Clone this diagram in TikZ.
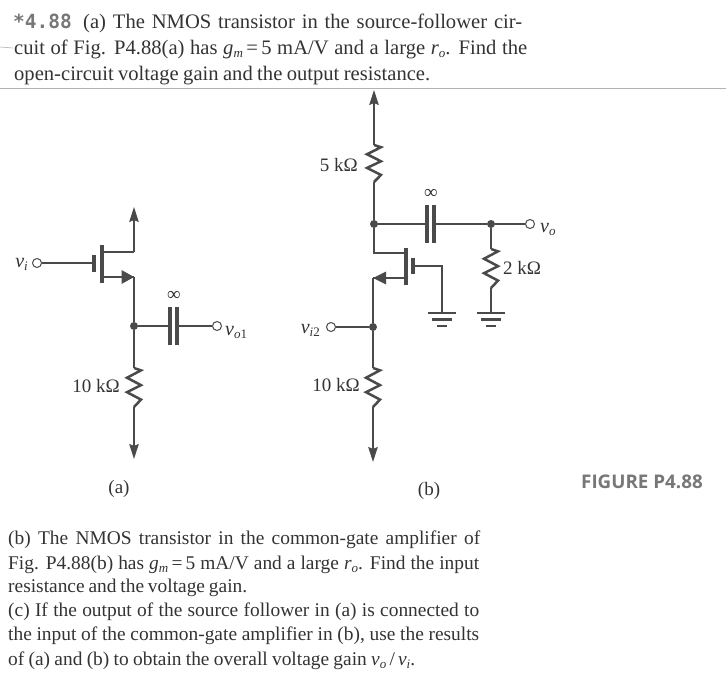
\documentclass[tikz,border=0pt]{standalone}
\usepackage{fontspec}
\setmainfont{Liberation Serif}
\newfontfamily\labelsans{Open Sans}
\newfontfamily\headmono{DejaVu Sans Mono}
\usetikzlibrary{calc,arrows.meta}
\definecolor{ink}{HTML}{333333}
\definecolor{wirecol}{HTML}{4A4A4A}
\definecolor{headgray}{HTML}{777777}
\newcommand{\subi}[2]{\textit{#1}\raisebox{-3pt}{\fontsize{13}{13}\selectfont\textit{#2}}}
\newcommand{\fitline}[2]{\makebox[#1pt][s]{#2}}
\tikzset{
  x=1pt,y=-1pt,
  wire/.style={draw=wirecol,line width=1.3pt},
  bar/.style={draw=wirecol,line width=3.2pt},
  gbar/.style={draw=wirecol,line width=2.8pt},
  zig/.style={draw=wirecol,line width=2.5pt,line join=miter},
  res/.style={to path={
    -- ($(\tikztostart)!0.06!(\tikztotarget)+(7,0)$)
    -- ($(\tikztostart)!0.25!(\tikztotarget)+(-7,0)$)
    -- ($(\tikztostart)!0.44!(\tikztotarget)+(7,0)$)
    -- ($(\tikztostart)!0.62!(\tikztotarget)+(-7,0)$)
    -- ($(\tikztostart)!0.81!(\tikztotarget)+(7,0)$)
    -- (\tikztotarget)}},
  dot/.style={circle,fill=wirecol,inner sep=0pt,minimum size=8pt},
  port/.style={circle,draw=wirecol,fill=white,line width=1pt,inner sep=0pt,minimum size=9pt},
  bodytext/.style={anchor=base west,inner sep=0pt,text=ink},
  toptext/.style={bodytext,font=\fontsize{20.6}{24}\selectfont},
  lowtext/.style={bodytext,font=\fontsize{19.4}{24}\selectfont},
  lab/.style={inner sep=0pt,text=ink,font=\fontsize{19}{23}\selectfont},
  symb/.style={inner sep=0pt,text=ink,font=\fontsize{20}{24}\selectfont\itshape},
  sup/.style={wire,-{Stealth[length=15pt,width=9.5pt,inset=2pt]}},
  tri/.style={fill=wirecol,draw=none},
}
\begin{document}
\begin{tikzpicture}
\useasboundingbox (0,0) rectangle (726,682);
% heading
\node[anchor=base west,inner sep=0pt,text=headgray,font=\headmono\bfseries\fontsize{19.5}{24}\selectfont] (hd) at (13,28.5) {*4.88};
\node[toptext] (t1) at (83,28.5) {\fitline{439}{(a) The NMOS transistor in the source-follower cir-}};
\node[toptext] (t2) at (14,54.5) {\fitline{513}{cuit of Fig. P4.88(a) has \subi{g}{m}\,=\,5 mA/V and a large \subi{r}{o}. Find the}};
\node[toptext] (t3) at (14,80.5) {\fitline{416}{open-circuit voltage gain and the output resistance.}};
\coordinate (ruleL) at (0,88.5); \coordinate (ruleR) at (726,88.5);
\draw[draw=black!30,line width=1pt] (ruleL) -- (ruleR);
\coordinate (nickL) at (0,47); \coordinate (nickR) at (13,48);
\draw[draw=black!30,line width=.6pt] (nickL) -- (nickR);

% circuit (a)
\coordinate (aVdd) at (134,207);
\coordinate (aDcorner) at (134,252);
\coordinate (aD) at (103,252);
\coordinate (aS) at (103,277);
\coordinate (aScorner) at (134,277);
\coordinate (aChT) at (102,245);
\coordinate (aChB) at (102,283);
\coordinate (aGT) at (94,255);
\coordinate (aGB) at (94,272);
\coordinate (aGm) at (94,263);
\node[port] (aIn) at (37,263) {};
\node[dot] (aJ) at (134,326) {};
\coordinate (aRt) at (134,368);
\coordinate (aRb) at (134,407);
\coordinate (aVss) at (134,459);
\coordinate (aC1) at (170,326);
\coordinate (aC2) at (177,326);
\node[port] (aOut) at (217,326) {};
\draw[sup] (aDcorner) -- (aVdd);
\draw[wire] (aD) -- (aDcorner);
\draw[wire] (aS) -- (aScorner);
\fill[tri] (aScorner) -- ($(aScorner)+(-12.5,-7)$) -- ($(aScorner)+(-12.5,7)$) -- cycle;
\draw[wire] (aScorner) -- (aJ);
\draw[wire] (aJ) -- (aRt);
\draw[zig] (aRt) to[res] (aRb);
\draw[sup] (aRb) -- (aVss);
\draw[bar] (aChT) -- (aChB);
\draw[bar] (aGT) -- (aGB);
\draw[wire] (aIn) -- (aGm);
\draw[wire] (aJ) -- (aC1);
\draw[wire] (aC2) -- (aOut);
\coordinate (aP1t) at (170,307); \coordinate (aP1b) at (170,345);
\coordinate (aP2t) at (177,307); \coordinate (aP2b) at (177,345);
\draw[bar] (aP1t) -- (aP1b);
\draw[bar] (aP2t) -- (aP2b);
\node[lab] (aInf) at (174,296) {∞};
\node[symb,anchor=east] (aViL) at (28,264) {\subi{v}{i}};
\node[symb,anchor=west] (aVoL) at (225,332) {\subi{v}{o}\raisebox{-3pt}{\fontsize{13}{13}\selectfont\upshape 1}};
\node[lab,anchor=east] (aRL) at (120,386) {10 kΩ};
\node[lab] (aCap) at (119,489) {(a)};

% circuit (b)
\coordinate (bVdd) at (374,90);
\coordinate (bRt) at (374,145);
\coordinate (bRb) at (374,182);
\node[dot] (bJd) at (374,224) {};
\coordinate (bC1) at (427,224);
\coordinate (bC2) at (434,224);
\node[dot] (bJo) at (491,224) {};
\node[port] (bOut) at (530,224) {};
\coordinate (bDcorner) at (374,253);
\coordinate (bD) at (406,253);
\coordinate (bS) at (406,278);
\coordinate (bScorner) at (373,278);
\coordinate (bChT) at (406,248);
\coordinate (bChB) at (406,285);
\coordinate (bGT) at (413,258);
\coordinate (bGB) at (413,274);
\coordinate (bGm) at (413,266);
\coordinate (bGc) at (442,266);
\coordinate (bGg) at (442,313);
\node[dot] (bJi) at (373,327) {};
\node[port] (bIn) at (331,327) {};
\coordinate (bR3t) at (373,368);
\coordinate (bR3b) at (373,407);
\coordinate (bVss) at (373,462);
\coordinate (bR2t) at (491,249);
\coordinate (bR2b) at (491,288);
\coordinate (bLg) at (491,313);
\draw[sup] (bRt) -- (bVdd);
\draw[zig] (bRt) to[res] (bRb);
\draw[wire] (bRb) -- (bJd);
\draw[wire] (bJd) -- (bC1);
\draw[wire] (bC2) -- (bJo);
\draw[wire] (bJo) -- (bOut);
\coordinate (bP1t) at (427,205); \coordinate (bP1b) at (427,243);
\coordinate (bP2t) at (434,205); \coordinate (bP2b) at (434,243);
\draw[bar] (bP1t) -- (bP1b);
\draw[bar] (bP2t) -- (bP2b);
\draw[wire] (bJd) -- (bDcorner) -- (bD);
\draw[wire] (bS) -- (bScorner);
\fill[tri] (bScorner) -- ($(bScorner)+(13,-6.5)$) -- ($(bScorner)+(13,6.5)$) -- cycle;
\draw[bar] (bChT) -- (bChB);
\draw[bar] (bGT) -- (bGB);
\draw[wire] (bGm) -- (bGc) -- (bGg);
\draw[wire] (bScorner) -- (bJi);
\draw[wire] (bIn) -- (bJi);
\draw[wire] (bJi) -- (bR3t);
\draw[zig] (bR3t) to[res] (bR3b);
\draw[sup] (bR3b) -- (bVss);
\draw[wire] (bJo) -- (bR2t);
\draw[zig] (bR2t) to[res] (bR2b);
\draw[wire] (bR2b) -- (bLg);
% grounds
\draw[gbar] ($(bGg)+(-14,0)$) -- ($(bGg)+(14,0)$);
\draw[gbar] ($(bGg)+(-10,6.5)$) -- ($(bGg)+(10,6.5)$);
\draw[gbar] ($(bGg)+(-5,13)$) -- ($(bGg)+(5,13)$);
\draw[gbar] ($(bLg)+(-14,0)$) -- ($(bLg)+(14,0)$);
\draw[gbar] ($(bLg)+(-10,6.5)$) -- ($(bLg)+(10,6.5)$);
\draw[gbar] ($(bLg)+(-5,13)$) -- ($(bLg)+(5,13)$);
\node[lab] (bInf) at (431,194) {∞};
\node[symb,anchor=west] (bVoL) at (540,229) {\subi{v}{o}};
\node[symb,anchor=east] (bViL) at (320,330) {\subi{v}{i}\raisebox{-3pt}{\fontsize{13}{13}\selectfont\upshape 2}};
\node[lab,anchor=east] (b5k) at (358,165) {5 kΩ};
\node[lab,anchor=west] (b2k) at (503,268) {2 kΩ};
\node[lab,anchor=east] (b10k) at (360,385) {10 kΩ};
\node[lab] (bCap) at (429,491) {(b)};

\node[anchor=base west,inner sep=0pt,text=headgray,font=\labelsans\bfseries\fontsize{18.8}{22}\selectfont] (figP) at (581,488) {FIGURE P4.88};

% lower text
\node[lowtext] (b1) at (8,544) {\fitline{472}{(b) The NMOS transistor in the common-gate amplifier of}};
\node[lowtext] (b2) at (8,569) {\fitline{471}{Fig. P4.88(b) has \subi{g}{m}\,=\,5 mA/V and a large \subi{r}{o}. Find the input}};
\node[lowtext] (b3) at (8,592) {\fitline{239}{resistance and the voltage gain.}};
\node[lowtext] (b4) at (8,616) {\fitline{471}{(c) If the output of the source follower in (a) is connected to}};
\node[lowtext] (b5) at (8,640) {\fitline{471}{the input of the common-gate amplifier in (b), use the results}};
\node[lowtext] (b6) at (8,665) {\fitline{407}{of (a) and (b) to obtain the overall voltage gain \subi{v}{o}\,/\,\subi{v}{i}.}};
\end{tikzpicture}
\end{document}
